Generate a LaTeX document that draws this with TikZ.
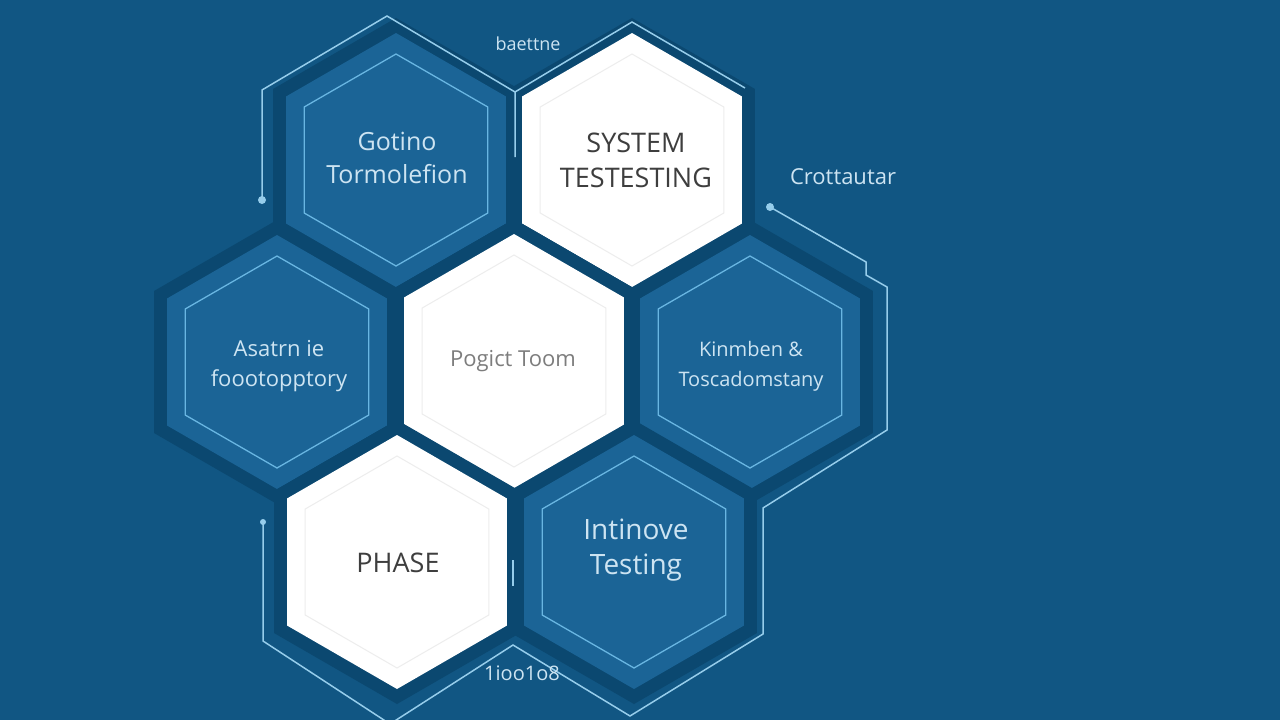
\documentclass[tikz,border=0pt]{standalone}
\definecolor{bgblue}{RGB}{17, 86, 131}
\definecolor{gapblue}{RGB}{11, 72, 112}
\definecolor{cellblue}{RGB}{27, 100, 150}
\definecolor{edgeblue}{RGB}{105, 182, 226}
\definecolor{wireblue}{RGB}{150, 205, 235}
\definecolor{paletext}{RGB}{205, 228, 242}
\definecolor{inkgrey}{RGB}{62, 62, 62}
\definecolor{softgrey}{RGB}{125, 125, 125}
\usepackage{fontspec}
\setmainfont{Open Sans}
\usepackage{tikz}
\usetikzlibrary{shapes.geometric, positioning}

\tikzset{
  hexcell/.style={regular polygon, regular polygon sides=6, shape border rotate=30,
    minimum size=254pt, inner sep=0pt, outer sep=0pt,
    preaction={draw=gapblue, line width=26pt}},
  bluecell/.style={hexcell, fill=cellblue},
  whitecell/.style={hexcell, fill=white},
  hexrim/.style={regular polygon, regular polygon sides=6, shape border rotate=30,
    minimum size=212pt, inner sep=0pt},
  bluerim/.style={hexrim, draw=edgeblue, line width=1.3pt},
  whiterim/.style={hexrim, draw=black!7, line width=1pt},
  celltext/.style={align=center, inner sep=0pt},
  wire/.style={draw=wireblue, line width=1.5pt},
  tag/.style={text=paletext}
}

\begin{document}
\begin{tikzpicture}[x=1pt, y=-1pt]
  \fill[bgblue] (0,0) rectangle (1280,720);
  \useasboundingbox (0,0) rectangle (1280,720);

  % Top row
  \node[bluecell] (gotino) at (396,160) {};
  \node[bluerim] (gotino-rim) at (396,160) {};
  \node[celltext, text=paletext, font=\fontsize{25}{33}\selectfont] (gotino-text) at (397,158) {Gotino\\Tormolefion};
  \node[whitecell] (system) at (632,160) {};
  \node[whiterim] (system-rim) at (632,160) {};
  \node[celltext, text=inkgrey, font=\fontsize{27}{35}\selectfont] (system-text) at (636,160) {SYSTEM\\TESTESTING};

  % Middle row
  \node[bluecell] (asatrn) at (277,362) {};
  \node[bluerim] (asatrn-rim) at (277,362) {};
  \node[celltext, text=paletext, font=\fontsize{22}{30}\selectfont] (asatrn-text) at (279,366) {Asatrn ie\\foootopptory};
  \node[whitecell] (pogict) at (514,361) {};
  \node[whiterim] (pogict-rim) at (514,361) {};
  \node[celltext, text=softgrey, font=\fontsize{22}{30}\selectfont] (pogict-text) at (513,361) {Pogict Toom};
  \node[bluecell] (kinmben) at (750,362) {};
  \node[bluerim] (kinmben-rim) at (750,362) {};
  \node[celltext, text=paletext, font=\fontsize{20}{30}\selectfont] (kinmben-text) at (751,366) {Kinmben \&\\Toscadomstany};

  % Bottom row
  \node[whitecell] (phase) at (397,562) {};
  \node[whiterim] (phase-rim) at (397,562) {};
  \node[celltext, text=inkgrey, font=\fontsize{27}{35}\selectfont] (phase-text) at (398,563) {PHASE};
  \node[bluecell] (intinove) at (634,562) {};
  \node[bluerim] (intinove-rim) at (634,562) {};
  \node[celltext, text=paletext, font=\fontsize{28}{35}\selectfont] (intinove-text) at (636,550) {Intinove\\Testing};

  % Circuit lines
  \draw[wire] (262,200) -- (262,90) -- (387,16) -- (515,92) -- (515,157);
  \draw[wire] (515,92) -- (632,22) -- (745,88);
  \draw[wire] (770,207) -- (866,262) -- (866,275) -- (887,287) -- (887,430)
    -- (763,508) -- (763,634) -- (630,716) -- (513,645) -- (390,724)
    -- (263,641) -- (263,522);
  \draw[wire] (513,560) -- (513,586);
  \fill[wireblue] (262,200) circle (4pt);
  \fill[wireblue] (770,207) circle (4pt);
  \fill[wireblue] (263,522) circle (3pt);

  % Labels
  \node[tag, font=\fontsize{18}{22}\selectfont] (top tag) at (528,44) {baettne};
  \node[tag, font=\fontsize{22}{26}\selectfont] (side tag) at (843,177) {Crottautar};
  \node[tag, font=\fontsize{20}{24}\selectfont] (foot tag) at (522,673) {1ioo1o8};
\end{tikzpicture}
\end{document}
